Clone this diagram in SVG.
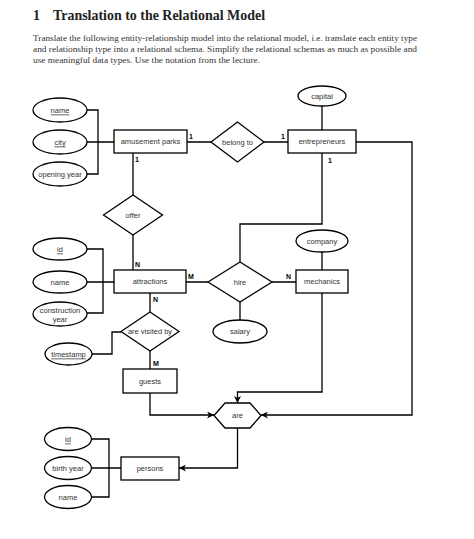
<svg xmlns="http://www.w3.org/2000/svg" width="474" height="539" viewBox="0 0 474 539">
<style>
.s{fill:#fff;stroke:#000;stroke-width:1.3}
.c{fill:none;stroke:#000;stroke-width:1.3}
.t{font-family:"Liberation Sans",Arial,sans-serif;font-size:7.5px;fill:#333;text-anchor:middle;dominant-baseline:central}
.u{text-decoration:underline}
.k{font-family:"Liberation Sans",Arial,sans-serif;font-size:7px;font-weight:bold;fill:#000;dominant-baseline:central}
.h{font-family:"Liberation Serif","Times New Roman",serif;font-weight:bold;font-size:14px;fill:#222}
.p{font-family:"Liberation Serif","Times New Roman",serif;font-size:8.8px;fill:#333}
</style>
<defs>
<marker id="a" viewBox="0 0 10 10" refX="10" refY="5" markerWidth="7" markerHeight="7" markerUnits="userSpaceOnUse" orient="auto"><path d="M0,0 L10,5 L0,10 L3,5 Z" fill="#000"/></marker>
</defs>
<rect width="474" height="539" fill="#fff"/>
<text class="h" x="33" y="20">1</text>
<text class="h" x="53" y="20" textLength="212" lengthAdjust="spacingAndGlyphs">Translation to the Relational Model</text>
<text class="p" x="33" y="41" textLength="384" lengthAdjust="spacingAndGlyphs">Translate the following entity-relationship model into the relational model, i.e. translate each entity type</text>
<text class="p" x="33" y="52" textLength="384" lengthAdjust="spacingAndGlyphs">and relationship type into a relational schema. Simplify the relational schemas as much as possible and</text>
<text class="p" x="33" y="63" textLength="227" lengthAdjust="spacingAndGlyphs">use meaningful data types. Use the notation from the lecture.</text>

<g id="connectors">
<path class="c" d="M87,110 H98 V174 H87 M87,142 H114"/>
<path class="c" d="M187,142 H211 M264,142 H288"/>
<path class="c" d="M322,106 V130"/>
<path class="c" d="M133,153 V195 M133,235 V270"/>
<path class="c" d="M322,153 V224 H240 V262"/>
<path class="c" d="M87,282 H114 M87,249 H103 V313 H87"/>
<path class="c" d="M186,282 H208 M272,282 H296"/>
<path class="c" d="M322,252 V270 M240,302 V320"/>
<path class="c" d="M150,293 V312 M150,351 V369"/>
<path class="c" d="M92,354 H112 V332 H121"/>
<path class="c" d="M356,142 H412 V415 H261" marker-end="url(#a)"/>
<path class="c" d="M322,293 V392 H237.5 V403" marker-end="url(#a)"/>
<path class="c" d="M150,393 V415 H214" marker-end="url(#a)"/>
<path class="c" d="M237.5,428 V468 H179" marker-end="url(#a)"/>
<path class="c" d="M92,439 H109 V497 H92 M92,468 H121"/>
<text class="k" x="189" y="136">1</text>
<text class="k" x="135" y="159">1</text>
<text class="k" x="281" y="136">1</text>
<text class="k" x="328" y="160">1</text>
<text class="k" x="135" y="264">N</text>
<text class="k" x="188" y="276">M</text>
<text class="k" x="286" y="276">N</text>
<text class="k" x="153" y="299">N</text>
<text class="k" x="153" y="363">M</text>
</g>

<g id="attr-park-name"><ellipse class="s" cx="60" cy="110" rx="27" ry="12"/><text class="t u" x="60" y="110">name</text></g>
<g id="attr-park-city"><ellipse class="s" cx="60" cy="142" rx="27" ry="12"/><text class="t u" x="60" y="142">city</text></g>
<g id="attr-park-opening"><ellipse class="s" cx="60" cy="174" rx="27" ry="12"/><text class="t" x="60" y="174">opening year</text></g>
<g id="amusement-parks"><rect class="s" x="114" y="130" width="73" height="23"/><text class="t" x="150.5" y="141.5">amusement parks</text></g>
<g id="belong-to"><path class="s" d="M211,142 L237.5,122 L264,142 L237.5,162 Z"/><text class="t" x="237.5" y="142">belong to</text></g>
<g id="capital"><ellipse class="s" cx="322" cy="96" rx="24" ry="10"/><text class="t" x="322" y="96">capital</text></g>
<g id="entrepreneurs"><rect class="s" x="288" y="130" width="68" height="23"/><text class="t" x="322" y="141.5">entrepreneurs</text></g>
<g id="offer"><path class="s" d="M103.5,215 L133,195 L162.5,215 L133,235 Z"/><text class="t" x="133" y="215">offer</text></g>
<g id="attr-id"><ellipse class="s" cx="60" cy="249" rx="27" ry="11"/><text class="t u" x="60" y="249">id</text></g>
<g id="attr-name"><ellipse class="s" cx="60" cy="282" rx="27" ry="11"/><text class="t" x="60" y="282">name</text></g>
<g id="attr-construction"><ellipse class="s" cx="60" cy="314" rx="27" ry="12"/><text class="t" x="60" y="310">construction</text><text class="t" x="60" y="319">year</text></g>
<g id="attractions"><rect class="s" x="114" y="270" width="72" height="23"/><text class="t" x="150" y="281.5">attractions</text></g>
<g id="hire"><path class="s" d="M208,282 L240,262 L272,282 L240,302 Z"/><text class="t" x="240" y="282">hire</text></g>
<g id="company"><ellipse class="s" cx="322" cy="241" rx="26" ry="11"/><text class="t" x="322" y="241">company</text></g>
<g id="mechanics"><rect class="s" x="296" y="270" width="52" height="23"/><text class="t" x="322" y="281.5">mechanics</text></g>
<g id="salary"><ellipse class="s" cx="240" cy="331.5" rx="27" ry="11.5"/><text class="t" x="240" y="331.5">salary</text></g>
<g id="are-visited-by"><path class="s" d="M121,331.5 L150,312 L179,331.5 L150,351 Z"/><text class="t" x="150" y="331.5">are visited by</text></g>
<g id="timestamp"><ellipse class="s" cx="68.5" cy="354" rx="23.5" ry="11"/><text class="t u" x="68.5" y="354">timestamp</text></g>
<g id="guests"><rect class="s" x="123" y="369" width="54" height="24"/><text class="t" x="150" y="381">guests</text></g>
<g id="are"><path class="s" d="M214,415.5 L225,403 L250,403 L261,415.5 L250,428 L225,428 Z"/><text class="t" x="237.5" y="415.5">are</text></g>
<g id="persons"><rect class="s" x="121" y="457" width="58" height="23"/><text class="t" x="150" y="468.5">persons</text></g>
<g id="p-id"><ellipse class="s" cx="68" cy="439" rx="23.5" ry="11.5"/><text class="t u" x="68" y="439">id</text></g>
<g id="p-birth"><ellipse class="s" cx="68" cy="468" rx="23.5" ry="11.5"/><text class="t" x="68" y="468">birth year</text></g>
<g id="p-name"><ellipse class="s" cx="68" cy="497" rx="23.5" ry="11.5"/><text class="t" x="68" y="497">name</text></g>
</svg>
